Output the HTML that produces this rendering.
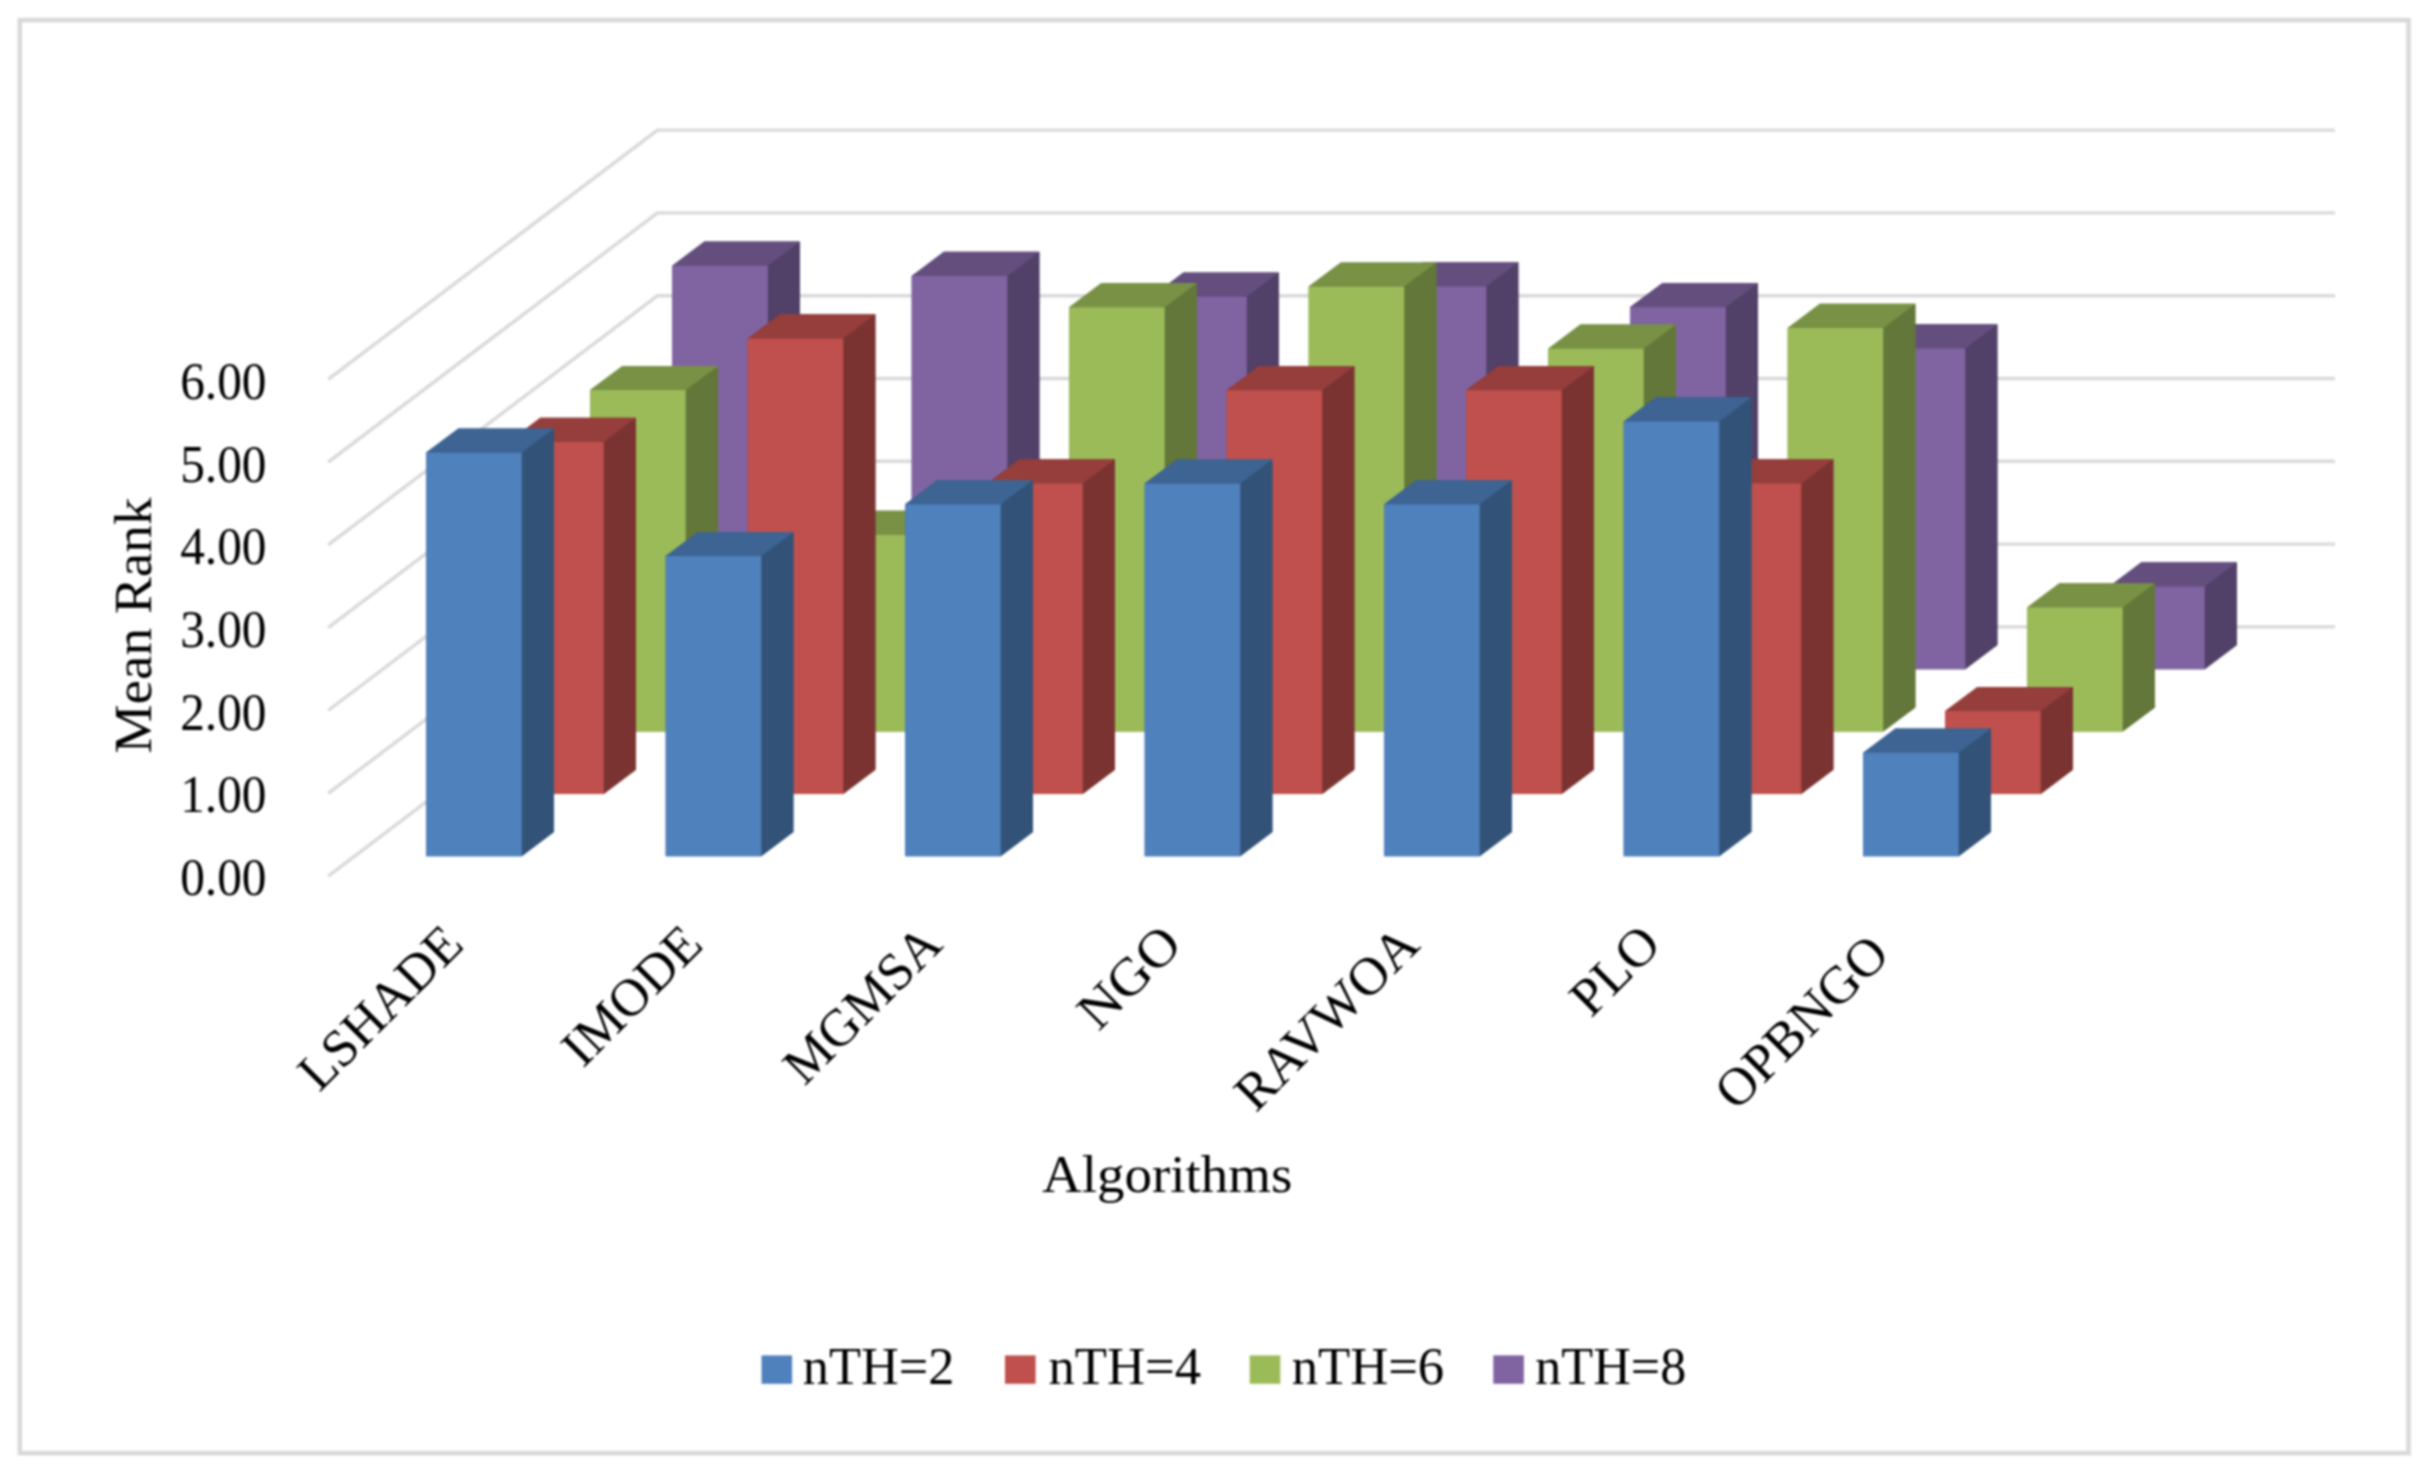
<!DOCTYPE html>
<html lang="en"><head><meta charset="utf-8"><title>Mean Rank by Algorithm</title>
<style>html,body{margin:0;padding:0;background:#fff;}body{width:2423px;height:1477px;overflow:hidden;}svg{display:block;filter:blur(0.8px);}</style>
</head><body>
<svg width="2423" height="1477" viewBox="0 0 2423 1477">
<rect x="0" y="0" width="2423" height="1477" fill="#FFFFFF"/>
<rect x="19.8" y="20.1" width="2388.7" height="1433.0" fill="none" stroke="#D9D9D9" stroke-width="4.6"/>
<g fill="none" stroke="#D9D9D9" stroke-width="3.4" stroke-linejoin="round" stroke-linecap="butt">
<polyline points="328.2,876.1 657.5,626.9 2335.0,626.9"/>
<polyline points="328.2,793.3 657.5,544.1 2335.0,544.1"/>
<polyline points="328.2,710.5 657.5,461.3 2335.0,461.3"/>
<polyline points="328.2,627.7 657.5,378.5 2335.0,378.5"/>
<polyline points="328.2,544.9 657.5,295.7 2335.0,295.7"/>
<polyline points="328.2,462.1 657.5,212.9 2335.0,212.9"/>
<polyline points="328.2,379.3 657.5,130.1 2335.0,130.1"/>
</g>
<g>
<polygon points="672.2,669.3 767.7,669.3 799.9,645.1 799.9,241.5 704.4,241.5 672.2,265.7" fill="#5A4671"/>
<polygon points="767.7,669.3 799.9,645.1 799.9,241.5 767.7,265.7" fill="#514067"/>
<polygon points="672.2,265.7 704.4,241.5 799.9,241.5 767.7,265.7" fill="#634E7E"/>
<rect x="672.2" y="265.7" width="95.5" height="403.6" fill="#8064A2"/>
<polygon points="911.7,669.3 1007.2,669.3 1039.4,645.1 1039.4,251.8 943.9,251.8 911.7,276.0" fill="#5A4671"/>
<polygon points="1007.2,669.3 1039.4,645.1 1039.4,251.8 1007.2,276.0" fill="#514067"/>
<polygon points="911.7,276.0 943.9,251.8 1039.4,251.8 1007.2,276.0" fill="#634E7E"/>
<rect x="911.7" y="276.0" width="95.5" height="393.3" fill="#8064A2"/>
<polygon points="1151.2,669.3 1246.7,669.3 1278.9,645.1 1278.9,272.5 1183.4,272.5 1151.2,296.7" fill="#5A4671"/>
<polygon points="1246.7,669.3 1278.9,645.1 1278.9,272.5 1246.7,296.7" fill="#514067"/>
<polygon points="1151.2,296.7 1183.4,272.5 1278.9,272.5 1246.7,296.7" fill="#634E7E"/>
<rect x="1151.2" y="296.7" width="95.5" height="372.6" fill="#8064A2"/>
<polygon points="1390.7,669.3 1486.2,669.3 1518.4,645.1 1518.4,262.2 1422.9,262.2 1390.7,286.4" fill="#5A4671"/>
<polygon points="1486.2,669.3 1518.4,645.1 1518.4,262.2 1486.2,286.4" fill="#514067"/>
<polygon points="1390.7,286.4 1422.9,262.2 1518.4,262.2 1486.2,286.4" fill="#634E7E"/>
<rect x="1390.7" y="286.4" width="95.5" height="382.9" fill="#8064A2"/>
<polygon points="1630.2,669.3 1725.7,669.3 1757.9,645.1 1757.9,282.9 1662.4,282.9 1630.2,307.1" fill="#5A4671"/>
<polygon points="1725.7,669.3 1757.9,645.1 1757.9,282.9 1725.7,307.1" fill="#514067"/>
<polygon points="1630.2,307.1 1662.4,282.9 1757.9,282.9 1725.7,307.1" fill="#634E7E"/>
<rect x="1630.2" y="307.1" width="95.5" height="362.2" fill="#8064A2"/>
<polygon points="1869.7,669.3 1965.2,669.3 1997.4,645.1 1997.4,324.3 1901.9,324.3 1869.7,348.5" fill="#5A4671"/>
<polygon points="1965.2,669.3 1997.4,645.1 1997.4,324.3 1965.2,348.5" fill="#514067"/>
<polygon points="1869.7,348.5 1901.9,324.3 1997.4,324.3 1965.2,348.5" fill="#634E7E"/>
<rect x="1869.7" y="348.5" width="95.5" height="320.8" fill="#8064A2"/>
<polygon points="2109.2,669.3 2204.7,669.3 2236.9,645.1 2236.9,562.3 2141.4,562.3 2109.2,586.5" fill="#5A4671"/>
<polygon points="2204.7,669.3 2236.9,645.1 2236.9,562.3 2204.7,586.5" fill="#514067"/>
<polygon points="2109.2,586.5 2141.4,562.3 2236.9,562.3 2204.7,586.5" fill="#634E7E"/>
<rect x="2109.2" y="586.5" width="95.5" height="82.8" fill="#8064A2"/>
<polygon points="590.2,731.6 685.7,731.6 717.9,707.4 717.9,365.9 622.4,365.9 590.2,390.1" fill="#6C833E"/>
<polygon points="685.7,731.6 717.9,707.4 717.9,365.9 685.7,390.1" fill="#627739"/>
<polygon points="590.2,390.1 622.4,365.9 717.9,365.9 685.7,390.1" fill="#789145"/>
<rect x="590.2" y="390.1" width="95.5" height="341.6" fill="#9BBB59"/>
<polygon points="829.7,731.6 925.2,731.6 957.4,707.4 957.4,510.8 861.9,510.8 829.7,535.0" fill="#6C833E"/>
<polygon points="925.2,731.6 957.4,707.4 957.4,510.8 925.2,535.0" fill="#627739"/>
<polygon points="829.7,535.0 861.9,510.8 957.4,510.8 925.2,535.0" fill="#789145"/>
<rect x="829.7" y="535.0" width="95.5" height="196.7" fill="#9BBB59"/>
<polygon points="1069.2,731.6 1164.7,731.6 1196.9,707.4 1196.9,283.1 1101.4,283.1 1069.2,307.3" fill="#6C833E"/>
<polygon points="1164.7,731.6 1196.9,707.4 1196.9,283.1 1164.7,307.3" fill="#627739"/>
<polygon points="1069.2,307.3 1101.4,283.1 1196.9,283.1 1164.7,307.3" fill="#789145"/>
<rect x="1069.2" y="307.3" width="95.5" height="424.3" fill="#9BBB59"/>
<polygon points="1308.7,731.6 1404.2,731.6 1436.4,707.4 1436.4,262.4 1340.9,262.4 1308.7,286.6" fill="#6C833E"/>
<polygon points="1404.2,731.6 1436.4,707.4 1436.4,262.4 1404.2,286.6" fill="#627739"/>
<polygon points="1308.7,286.6 1340.9,262.4 1436.4,262.4 1404.2,286.6" fill="#789145"/>
<rect x="1308.7" y="286.6" width="95.5" height="445.1" fill="#9BBB59"/>
<polygon points="1548.2,731.6 1643.7,731.6 1675.9,707.4 1675.9,324.5 1580.4,324.5 1548.2,348.7" fill="#6C833E"/>
<polygon points="1643.7,731.6 1675.9,707.4 1675.9,324.5 1643.7,348.7" fill="#627739"/>
<polygon points="1548.2,348.7 1580.4,324.5 1675.9,324.5 1643.7,348.7" fill="#789145"/>
<rect x="1548.2" y="348.7" width="95.5" height="382.9" fill="#9BBB59"/>
<polygon points="1787.7,731.6 1883.2,731.6 1915.4,707.4 1915.4,303.8 1819.9,303.8 1787.7,328.0" fill="#6C833E"/>
<polygon points="1883.2,731.6 1915.4,707.4 1915.4,303.8 1883.2,328.0" fill="#627739"/>
<polygon points="1787.7,328.0 1819.9,303.8 1915.4,303.8 1883.2,328.0" fill="#789145"/>
<rect x="1787.7" y="328.0" width="95.5" height="403.6" fill="#9BBB59"/>
<polygon points="2027.2,731.6 2122.7,731.6 2154.9,707.4 2154.9,583.2 2059.4,583.2 2027.2,607.4" fill="#6C833E"/>
<polygon points="2122.7,731.6 2154.9,707.4 2154.9,583.2 2122.7,607.4" fill="#627739"/>
<polygon points="2027.2,607.4 2059.4,583.2 2154.9,583.2 2122.7,607.4" fill="#789145"/>
<rect x="2027.2" y="607.4" width="95.5" height="124.2" fill="#9BBB59"/>
<polygon points="508.2,793.9 603.7,793.9 635.9,769.7 635.9,417.8 540.4,417.8 508.2,442.0" fill="#863836"/>
<polygon points="603.7,793.9 635.9,769.7 635.9,417.8 603.7,442.0" fill="#7A3331"/>
<polygon points="508.2,442.0 540.4,417.8 635.9,417.8 603.7,442.0" fill="#953E3C"/>
<rect x="508.2" y="442.0" width="95.5" height="351.9" fill="#C0504D"/>
<polygon points="747.7,793.9 843.2,793.9 875.4,769.7 875.4,314.3 779.9,314.3 747.7,338.5" fill="#863836"/>
<polygon points="843.2,793.9 875.4,769.7 875.4,314.3 843.2,338.5" fill="#7A3331"/>
<polygon points="747.7,338.5 779.9,314.3 875.4,314.3 843.2,338.5" fill="#953E3C"/>
<rect x="747.7" y="338.5" width="95.5" height="455.4" fill="#C0504D"/>
<polygon points="987.2,793.9 1082.7,793.9 1114.9,769.7 1114.9,459.2 1019.4,459.2 987.2,483.4" fill="#863836"/>
<polygon points="1082.7,793.9 1114.9,769.7 1114.9,459.2 1082.7,483.4" fill="#7A3331"/>
<polygon points="987.2,483.4 1019.4,459.2 1114.9,459.2 1082.7,483.4" fill="#953E3C"/>
<rect x="987.2" y="483.4" width="95.5" height="310.5" fill="#C0504D"/>
<polygon points="1226.7,793.9 1322.2,793.9 1354.4,769.7 1354.4,366.1 1258.9,366.1 1226.7,390.3" fill="#863836"/>
<polygon points="1322.2,793.9 1354.4,769.7 1354.4,366.1 1322.2,390.3" fill="#7A3331"/>
<polygon points="1226.7,390.3 1258.9,366.1 1354.4,366.1 1322.2,390.3" fill="#953E3C"/>
<rect x="1226.7" y="390.3" width="95.5" height="403.6" fill="#C0504D"/>
<polygon points="1466.2,793.9 1561.7,793.9 1593.9,769.7 1593.9,366.1 1498.4,366.1 1466.2,390.3" fill="#863836"/>
<polygon points="1561.7,793.9 1593.9,769.7 1593.9,366.1 1561.7,390.3" fill="#7A3331"/>
<polygon points="1466.2,390.3 1498.4,366.1 1593.9,366.1 1561.7,390.3" fill="#953E3C"/>
<rect x="1466.2" y="390.3" width="95.5" height="403.6" fill="#C0504D"/>
<polygon points="1705.7,793.9 1801.2,793.9 1833.4,769.7 1833.4,459.2 1737.9,459.2 1705.7,483.4" fill="#863836"/>
<polygon points="1801.2,793.9 1833.4,769.7 1833.4,459.2 1801.2,483.4" fill="#7A3331"/>
<polygon points="1705.7,483.4 1737.9,459.2 1833.4,459.2 1801.2,483.4" fill="#953E3C"/>
<rect x="1705.7" y="483.4" width="95.5" height="310.5" fill="#C0504D"/>
<polygon points="1945.2,793.9 2040.7,793.9 2072.9,769.7 2072.9,686.9 1977.4,686.9 1945.2,711.1" fill="#863836"/>
<polygon points="2040.7,793.9 2072.9,769.7 2072.9,686.9 2040.7,711.1" fill="#7A3331"/>
<polygon points="1945.2,711.1 1977.4,686.9 2072.9,686.9 2040.7,711.1" fill="#953E3C"/>
<rect x="1945.2" y="711.1" width="95.5" height="82.8" fill="#C0504D"/>
<polygon points="426.2,856.2 521.7,856.2 553.9,832.0 553.9,428.4 458.4,428.4 426.2,452.6" fill="#375A84"/>
<polygon points="521.7,856.2 553.9,832.0 553.9,428.4 521.7,452.6" fill="#325278"/>
<polygon points="426.2,452.6 458.4,428.4 553.9,428.4 521.7,452.6" fill="#3D6492"/>
<rect x="426.2" y="452.6" width="95.5" height="403.6" fill="#4F81BD"/>
<polygon points="665.7,856.2 761.2,856.2 793.4,832.0 793.4,531.9 697.9,531.9 665.7,556.1" fill="#375A84"/>
<polygon points="761.2,856.2 793.4,832.0 793.4,531.9 761.2,556.1" fill="#325278"/>
<polygon points="665.7,556.1 697.9,531.9 793.4,531.9 761.2,556.1" fill="#3D6492"/>
<rect x="665.7" y="556.1" width="95.5" height="300.1" fill="#4F81BD"/>
<polygon points="905.2,856.2 1000.7,856.2 1032.9,832.0 1032.9,480.1 937.4,480.1 905.2,504.3" fill="#375A84"/>
<polygon points="1000.7,856.2 1032.9,832.0 1032.9,480.1 1000.7,504.3" fill="#325278"/>
<polygon points="905.2,504.3 937.4,480.1 1032.9,480.1 1000.7,504.3" fill="#3D6492"/>
<rect x="905.2" y="504.3" width="95.5" height="351.9" fill="#4F81BD"/>
<polygon points="1144.7,856.2 1240.2,856.2 1272.4,832.0 1272.4,459.4 1176.9,459.4 1144.7,483.6" fill="#375A84"/>
<polygon points="1240.2,856.2 1272.4,832.0 1272.4,459.4 1240.2,483.6" fill="#325278"/>
<polygon points="1144.7,483.6 1176.9,459.4 1272.4,459.4 1240.2,483.6" fill="#3D6492"/>
<rect x="1144.7" y="483.6" width="95.5" height="372.6" fill="#4F81BD"/>
<polygon points="1384.2,856.2 1479.7,856.2 1511.9,832.0 1511.9,480.1 1416.4,480.1 1384.2,504.3" fill="#375A84"/>
<polygon points="1479.7,856.2 1511.9,832.0 1511.9,480.1 1479.7,504.3" fill="#325278"/>
<polygon points="1384.2,504.3 1416.4,480.1 1511.9,480.1 1479.7,504.3" fill="#3D6492"/>
<rect x="1384.2" y="504.3" width="95.5" height="351.9" fill="#4F81BD"/>
<polygon points="1623.7,856.2 1719.2,856.2 1751.4,832.0 1751.4,397.3 1655.9,397.3 1623.7,421.5" fill="#375A84"/>
<polygon points="1719.2,856.2 1751.4,832.0 1751.4,397.3 1719.2,421.5" fill="#325278"/>
<polygon points="1623.7,421.5 1655.9,397.3 1751.4,397.3 1719.2,421.5" fill="#3D6492"/>
<rect x="1623.7" y="421.5" width="95.5" height="434.7" fill="#4F81BD"/>
<polygon points="1863.2,856.2 1958.7,856.2 1990.9,832.0 1990.9,728.5 1895.4,728.5 1863.2,752.7" fill="#375A84"/>
<polygon points="1958.7,856.2 1990.9,832.0 1990.9,728.5 1958.7,752.7" fill="#325278"/>
<polygon points="1863.2,752.7 1895.4,728.5 1990.9,728.5 1958.7,752.7" fill="#3D6492"/>
<rect x="1863.2" y="752.7" width="95.5" height="103.5" fill="#4F81BD"/>
</g>
<g font-family="'Liberation Serif', serif" font-size="53" fill="#000000">
<text x="180.2" y="895.0" textLength="86.3" lengthAdjust="spacingAndGlyphs">0.00</text>
<text x="180.2" y="812.3" textLength="86.3" lengthAdjust="spacingAndGlyphs">1.00</text>
<text x="180.2" y="729.6" textLength="86.3" lengthAdjust="spacingAndGlyphs">2.00</text>
<text x="180.2" y="646.9" textLength="86.3" lengthAdjust="spacingAndGlyphs">3.00</text>
<text x="180.2" y="564.2" textLength="86.3" lengthAdjust="spacingAndGlyphs">4.00</text>
<text x="180.2" y="481.5" textLength="86.3" lengthAdjust="spacingAndGlyphs">5.00</text>
<text x="180.2" y="398.8" textLength="86.3" lengthAdjust="spacingAndGlyphs">6.00</text>
<text transform="translate(150.5,753.5) rotate(-90)" textLength="256" lengthAdjust="spacingAndGlyphs">Mean Rank</text>
<text x="1042.0" y="1192.0" textLength="250.5" lengthAdjust="spacingAndGlyphs">Algorithms</text>
<text transform="translate(465.6,946.7) rotate(-45)" x="-207.0" y="0" textLength="207.0" lengthAdjust="spacingAndGlyphs">LSHADE</text>
<text transform="translate(705.1,946.7) rotate(-45)" x="-172.5" y="0" textLength="172.5" lengthAdjust="spacingAndGlyphs">IMODE</text>
<text transform="translate(944.6,946.7) rotate(-45)" x="-198.0" y="0" textLength="198.0" lengthAdjust="spacingAndGlyphs">MGMSA</text>
<text transform="translate(1184.1,946.7) rotate(-45)" x="-121.0" y="0" textLength="121.0" lengthAdjust="spacingAndGlyphs">NGO</text>
<text transform="translate(1421.8,947.3) rotate(-45)" x="-235.0" y="0" textLength="235.0" lengthAdjust="spacingAndGlyphs">RAVWOA</text>
<text transform="translate(1663.1,946.7) rotate(-45)" x="-102.0" y="0" textLength="102.0" lengthAdjust="spacingAndGlyphs">PLO</text>
<text transform="translate(1891.5,956.8) rotate(-45)" x="-219.5" y="0" textLength="219.5" lengthAdjust="spacingAndGlyphs">OPBNGO</text>
<rect x="761.5" y="1355.4" width="30.6" height="28.4" fill="#4F81BD"/>
<text x="802.8" y="1384.3" font-size="52" textLength="151.5" lengthAdjust="spacingAndGlyphs">nTH=2</text>
<rect x="1005.0" y="1355.4" width="30.6" height="28.4" fill="#C0504D"/>
<text x="1048.5" y="1384.3" font-size="52" textLength="152.5" lengthAdjust="spacingAndGlyphs">nTH=4</text>
<rect x="1249.7" y="1355.4" width="30.6" height="28.4" fill="#9BBB59"/>
<text x="1291.7" y="1384.3" font-size="52" textLength="152.5" lengthAdjust="spacingAndGlyphs">nTH=6</text>
<rect x="1493.3" y="1355.4" width="30.6" height="28.4" fill="#8064A2"/>
<text x="1535.3" y="1384.3" font-size="52" textLength="151.0" lengthAdjust="spacingAndGlyphs">nTH=8</text>
</g>
</svg>
</body></html>
